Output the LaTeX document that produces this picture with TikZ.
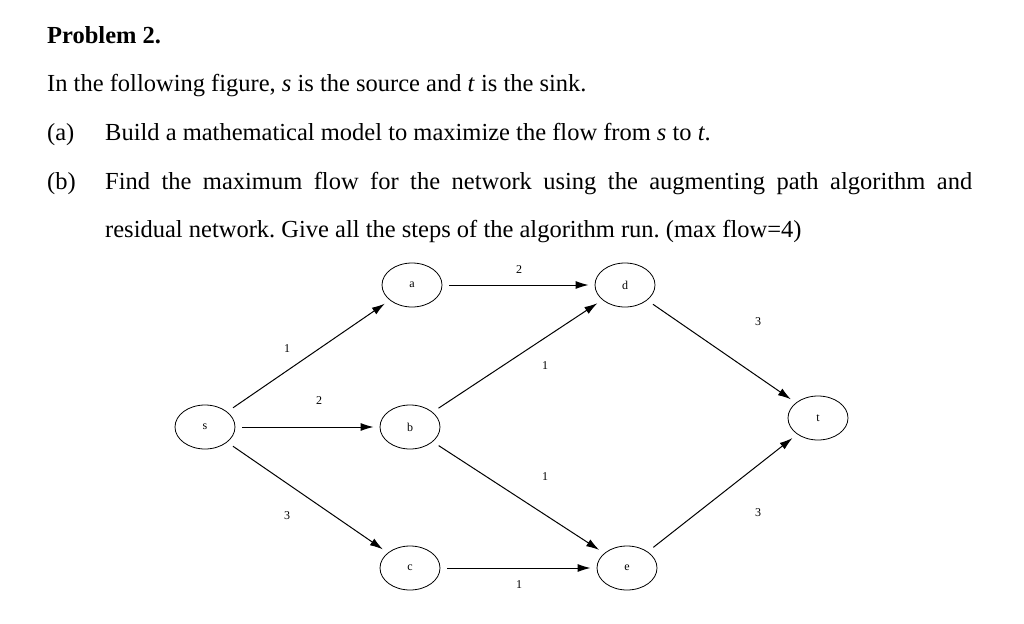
\documentclass[tikz,border=0pt]{standalone}
\usepackage{fontspec}
\setmainfont{Liberation Serif}
\usetikzlibrary{shapes.geometric,arrows.meta}
\begin{document}
\frenchspacing
\begin{tikzpicture}[x=1pt,y=-1pt,
  vert/.style={ellipse,draw,line width=0.8pt,minimum width=60pt,minimum height=44pt,inner sep=0pt,font=\fontsize{12}{12}\selectfont},
  arc/.style={line width=1pt,-{Latex[length=13pt,width=8pt]},shorten <=7pt,shorten >=6pt},
  lab/.style={font=\fontsize{12}{12}\selectfont},
  txt/.style={anchor=base west,inner sep=0pt,font=\fontsize{24.5}{30}\selectfont}]
\useasboundingbox (0,0) rectangle (1024,623);
\node[txt] (title) at (47,44) {\textbf{Problem 2.}};
\node[txt] (intro) at (47,92) {In the following figure, \textit{s} is the source and \textit{t} is the sink.};
\node[txt] (pa) at (47,140) {(a)};
\node[txt] (ta) at (105,140) {Build a mathematical model to maximize the flow from \textit{s} to \textit{t}.};
\node[txt] (pb) at (47,189) {(b)};
\node[txt,text width=867pt,align=justify] (tb) at (105,189) {\parfillskip=0pt Find the maximum flow for the network using the augmenting path algorithm and\par};
\node[txt] (tb2) at (105,237) {residual network. Give all the steps of the algorithm run. (max flow=4)};
\node[vert] (s) at (205,427) {s};
\node[vert] (a) at (412,285) {a};
\node[vert] (b) at (410,427) {b};
\node[vert] (c) at (410,568) {c};
\node[vert] (d) at (625,285) {d};
\node[vert] (e) at (627,568) {e};
\node[vert] (t) at (818,418) {t};
\draw[arc] (s) -- (a);
\draw[arc] (s) -- (b);
\draw[arc] (s) -- (c);
\draw[arc] (a) -- (d);
\draw[arc] (b) -- (d);
\draw[arc] (b) -- (e);
\draw[arc] (c) -- (e);
\draw[arc] (d) -- (t);
\draw[arc] (e) -- (t);
\node[lab] (l1) at (287,349) {1};
\node[lab] (l2) at (319,401) {2};
\node[lab] (l3) at (287,516) {3};
\node[lab] (l4) at (519,270) {2};
\node[lab] (l5) at (545,366) {1};
\node[lab] (l6) at (545,477) {1};
\node[lab] (l7) at (519,585) {1};
\node[lab] (l8) at (758,322) {3};
\node[lab] (l9) at (758,513) {3};
\end{tikzpicture}
\end{document}
